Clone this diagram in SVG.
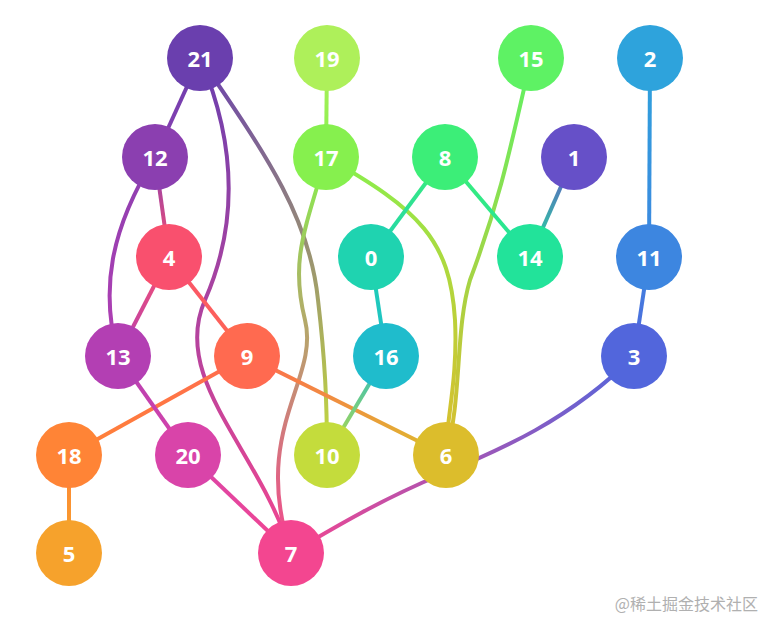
<svg xmlns="http://www.w3.org/2000/svg" width="776" height="631" viewBox="0 0 776 631">
<style>
.e{fill:none;stroke-width:4}
.n circle{stroke:none}
.n text{fill:#fff;font-family:"Open Sans","Liberation Sans",sans-serif;font-weight:bold;font-size:22px;text-anchor:middle;dominant-baseline:central}
</style>
<defs>
<linearGradient id="g21_12" gradientUnits="userSpaceOnUse" x1="200" y1="58" x2="155" y2="157"><stop offset="0" stop-color="#6a3fae"/><stop offset="1" stop-color="#8b3fb0"/></linearGradient>
<linearGradient id="g21_7" gradientUnits="userSpaceOnUse" x1="200" y1="58" x2="291" y2="553"><stop offset="0" stop-color="#6a3fae"/><stop offset="1" stop-color="#f34690"/></linearGradient>
<linearGradient id="g21_10" gradientUnits="userSpaceOnUse" x1="200" y1="58" x2="327" y2="455"><stop offset="0" stop-color="#6a3fae"/><stop offset="1" stop-color="#c4dc3c"/></linearGradient>
<linearGradient id="g12_4" gradientUnits="userSpaceOnUse" x1="155" y1="157" x2="169" y2="257"><stop offset="0" stop-color="#8b3fb0"/><stop offset="1" stop-color="#f9506e"/></linearGradient>
<linearGradient id="g12_13" gradientUnits="userSpaceOnUse" x1="155" y1="157" x2="118" y2="356"><stop offset="0" stop-color="#8b3fb0"/><stop offset="1" stop-color="#b33fb3"/></linearGradient>
<linearGradient id="g19_17" gradientUnits="userSpaceOnUse" x1="327" y1="58" x2="326" y2="157"><stop offset="0" stop-color="#aef05a"/><stop offset="1" stop-color="#86f04e"/></linearGradient>
<linearGradient id="g17_7" gradientUnits="userSpaceOnUse" x1="326" y1="157" x2="291" y2="553"><stop offset="0" stop-color="#86f04e"/><stop offset="1" stop-color="#f34690"/></linearGradient>
<linearGradient id="g17_6" gradientUnits="userSpaceOnUse" x1="326" y1="157" x2="446" y2="455"><stop offset="0" stop-color="#86f04e"/><stop offset="1" stop-color="#dcbd2c"/></linearGradient>
<linearGradient id="g15_6" gradientUnits="userSpaceOnUse" x1="531" y1="58" x2="446" y2="455"><stop offset="0" stop-color="#5ef264"/><stop offset="1" stop-color="#dcbd2c"/></linearGradient>
<linearGradient id="g8_0" gradientUnits="userSpaceOnUse" x1="445" y1="157" x2="371" y2="257"><stop offset="0" stop-color="#3cee78"/><stop offset="1" stop-color="#1fd3b0"/></linearGradient>
<linearGradient id="g8_14" gradientUnits="userSpaceOnUse" x1="445" y1="157" x2="530" y2="257"><stop offset="0" stop-color="#3cee78"/><stop offset="1" stop-color="#22e39a"/></linearGradient>
<linearGradient id="g1_14" gradientUnits="userSpaceOnUse" x1="574" y1="157" x2="530" y2="257"><stop offset="0" stop-color="#6650c8"/><stop offset="1" stop-color="#22e39a"/></linearGradient>
<linearGradient id="g2_11" gradientUnits="userSpaceOnUse" x1="650" y1="58" x2="649" y2="257"><stop offset="0" stop-color="#2ea3dc"/><stop offset="1" stop-color="#3d86e0"/></linearGradient>
<linearGradient id="g11_3" gradientUnits="userSpaceOnUse" x1="649" y1="257" x2="634" y2="356"><stop offset="0" stop-color="#3d86e0"/><stop offset="1" stop-color="#5266dc"/></linearGradient>
<linearGradient id="g3_7" gradientUnits="userSpaceOnUse" x1="634" y1="356" x2="291" y2="553"><stop offset="0" stop-color="#5266dc"/><stop offset="1" stop-color="#f34690"/></linearGradient>
<linearGradient id="g4_13" gradientUnits="userSpaceOnUse" x1="169" y1="257" x2="118" y2="356"><stop offset="0" stop-color="#f9506e"/><stop offset="1" stop-color="#b33fb3"/></linearGradient>
<linearGradient id="g4_9" gradientUnits="userSpaceOnUse" x1="169" y1="257" x2="247" y2="356"><stop offset="0" stop-color="#f9506e"/><stop offset="1" stop-color="#ff6a50"/></linearGradient>
<linearGradient id="g9_18" gradientUnits="userSpaceOnUse" x1="247" y1="356" x2="69" y2="455"><stop offset="0" stop-color="#ff6a50"/><stop offset="1" stop-color="#ff8436"/></linearGradient>
<linearGradient id="g9_6" gradientUnits="userSpaceOnUse" x1="247" y1="356" x2="446" y2="455"><stop offset="0" stop-color="#ff6a50"/><stop offset="1" stop-color="#dcbd2c"/></linearGradient>
<linearGradient id="g13_20" gradientUnits="userSpaceOnUse" x1="118" y1="356" x2="188" y2="455"><stop offset="0" stop-color="#b33fb3"/><stop offset="1" stop-color="#d944a9"/></linearGradient>
<linearGradient id="g20_7" gradientUnits="userSpaceOnUse" x1="188" y1="455" x2="291" y2="553"><stop offset="0" stop-color="#d944a9"/><stop offset="1" stop-color="#f34690"/></linearGradient>
<linearGradient id="g0_16" gradientUnits="userSpaceOnUse" x1="371" y1="257" x2="386" y2="356"><stop offset="0" stop-color="#1fd3b0"/><stop offset="1" stop-color="#1fbccc"/></linearGradient>
<linearGradient id="g16_10" gradientUnits="userSpaceOnUse" x1="386" y1="356" x2="327" y2="455"><stop offset="0" stop-color="#1fbccc"/><stop offset="1" stop-color="#c4dc3c"/></linearGradient>
<linearGradient id="g18_5" gradientUnits="userSpaceOnUse" x1="69" y1="455" x2="69" y2="553"><stop offset="0" stop-color="#ff8436"/><stop offset="1" stop-color="#f6a22c"/></linearGradient>
</defs>
<g id="edges">
<path class="e" stroke="url(#g21_12)" d="M200,58 L155,157"/>
<path class="e" stroke="url(#g21_7)" d="M200,58 C235,140 240,220 205,300 C170,380 260,450 291,553"/>
<path class="e" stroke="url(#g21_10)" d="M200,58 C270,160 310,220 318,300 C325,360 327,400 327,455"/>
<path class="e" stroke="url(#g12_4)" d="M155,157 L169,257"/>
<path class="e" stroke="url(#g12_13)" d="M155,157 C110,230 100,290 118,356"/>
<path class="e" stroke="url(#g19_17)" d="M327,58 L326,157"/>
<path class="e" stroke="url(#g17_7)" d="M326,157 C305,230 290,260 305,320 C320,380 250,430 291,553"/>
<path class="e" stroke="url(#g17_6)" d="M326,157 C420,210 450,240 455,320 C458,380 446,420 446,455"/>
<path class="e" stroke="url(#g15_6)" d="M531,58 C510,150 500,200 470,280 C455,330 462,400 446,455"/>
<path class="e" stroke="url(#g8_0)" d="M445,157 L371,257"/>
<path class="e" stroke="url(#g8_14)" d="M445,157 L530,257"/>
<path class="e" stroke="url(#g1_14)" d="M574,157 L530,257"/>
<path class="e" stroke="url(#g2_11)" d="M650,58 L649,257"/>
<path class="e" stroke="url(#g11_3)" d="M649,257 L634,356"/>
<path class="e" stroke="url(#g3_7)" d="M634,356 C570,420 500,450 440,475 C380,500 330,530 291,553"/>
<path class="e" stroke="url(#g4_13)" d="M169,257 L118,356"/>
<path class="e" stroke="url(#g4_9)" d="M169,257 L247,356"/>
<path class="e" stroke="url(#g9_18)" d="M247,356 L69,455"/>
<path class="e" stroke="url(#g9_6)" d="M247,356 L446,455"/>
<path class="e" stroke="url(#g13_20)" d="M118,356 L188,455"/>
<path class="e" stroke="url(#g20_7)" d="M188,455 L291,553"/>
<path class="e" stroke="url(#g0_16)" d="M371,257 L386,356"/>
<path class="e" stroke="url(#g16_10)" d="M386,356 L327,455"/>
<path class="e" stroke="url(#g18_5)" d="M69,455 L69,553"/>
</g>
<g id="n21" class="n"><circle cx="200" cy="58" r="33" fill="#6a3fae"/><text x="200" y="58">21</text></g>
<g id="n19" class="n"><circle cx="327" cy="58" r="33" fill="#aef05a"/><text x="327" y="58">19</text></g>
<g id="n15" class="n"><circle cx="531" cy="58" r="33" fill="#5ef264"/><text x="531" y="58">15</text></g>
<g id="n2" class="n"><circle cx="650" cy="58" r="33" fill="#2ea3dc"/><text x="650" y="58">2</text></g>
<g id="n12" class="n"><circle cx="155" cy="157" r="33" fill="#8b3fb0"/><text x="155" y="157">12</text></g>
<g id="n17" class="n"><circle cx="326" cy="157" r="33" fill="#86f04e"/><text x="326" y="157">17</text></g>
<g id="n8" class="n"><circle cx="445" cy="157" r="33" fill="#3cee78"/><text x="445" y="157">8</text></g>
<g id="n1" class="n"><circle cx="574" cy="157" r="33" fill="#6650c8"/><text x="574" y="157">1</text></g>
<g id="n4" class="n"><circle cx="169" cy="257" r="33" fill="#f9506e"/><text x="169" y="257">4</text></g>
<g id="n0" class="n"><circle cx="371" cy="257" r="33" fill="#1fd3b0"/><text x="371" y="257">0</text></g>
<g id="n14" class="n"><circle cx="530" cy="257" r="33" fill="#22e39a"/><text x="530" y="257">14</text></g>
<g id="n11" class="n"><circle cx="649" cy="257" r="33" fill="#3d86e0"/><text x="649" y="257">11</text></g>
<g id="n13" class="n"><circle cx="118" cy="356" r="33" fill="#b33fb3"/><text x="118" y="356">13</text></g>
<g id="n9" class="n"><circle cx="247" cy="356" r="33" fill="#ff6a50"/><text x="247" y="356">9</text></g>
<g id="n16" class="n"><circle cx="386" cy="356" r="33" fill="#1fbccc"/><text x="386" y="356">16</text></g>
<g id="n3" class="n"><circle cx="634" cy="356" r="33" fill="#5266dc"/><text x="634" y="356">3</text></g>
<g id="n18" class="n"><circle cx="69" cy="455" r="33" fill="#ff8436"/><text x="69" y="455">18</text></g>
<g id="n20" class="n"><circle cx="188" cy="455" r="33" fill="#d944a9"/><text x="188" y="455">20</text></g>
<g id="n10" class="n"><circle cx="327" cy="455" r="33" fill="#c4dc3c"/><text x="327" y="455">10</text></g>
<g id="n6" class="n"><circle cx="446" cy="455" r="33" fill="#dcbd2c"/><text x="446" y="455">6</text></g>
<g id="n5" class="n"><circle cx="69" cy="553" r="33" fill="#f6a22c"/><text x="69" y="553">5</text></g>
<g id="n7" class="n"><circle cx="291" cy="553" r="33" fill="#f34690"/><text x="291" y="553">7</text></g>
<text x="758" y="610" text-anchor="end" font-family="'Noto Sans CJK SC',sans-serif" font-size="16" fill="#b0b0b0">@稀土掘金技术社区</text>
</svg>
